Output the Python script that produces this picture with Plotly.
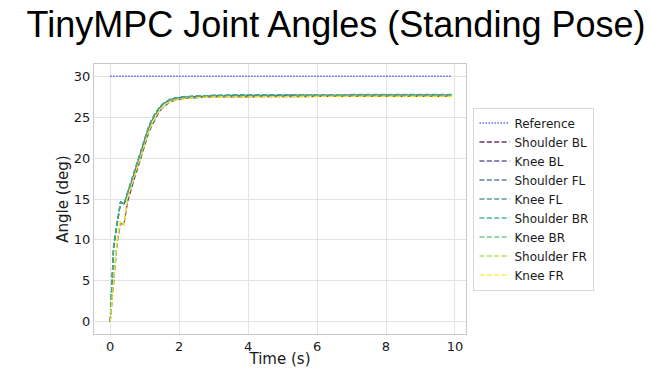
import plotly.graph_objects as go

# ---- data ----
time_s = [0.0, 0.1, 0.2, 0.3, 0.4, 0.5, 0.6, 0.7, 0.8, 0.9, 1.0, 1.1, 1.2, 1.3, 1.4, 1.5,
          1.6, 1.7, 1.8, 1.9, 2.0, 2.2, 2.4, 2.6, 3.0, 3.5, 4.0, 5.0, 6.0, 7.0, 8.0, 9.0, 9.9]

reference = [30.0] * len(time_s)

shoulder_bl = [0.0, 4.6, 9.6, 12.0, 11.9, 14.6, 16.2, 17.5, 18.8, 20.2, 21.6, 22.9, 23.9, 24.8,
               25.5, 26.05, 26.45, 26.75, 26.95, 27.1, 27.18, 27.3, 27.37, 27.42, 27.48, 27.5,
               27.52, 27.53, 27.54, 27.55, 27.55, 27.55, 27.55]
knee_bl = [0.0, 9.0, 11.8, 14.7, 14.3, 15.7, 16.9, 18.2, 19.5, 20.9, 22.3, 23.5, 24.5, 25.3,
           25.95, 26.45, 26.8, 27.05, 27.2, 27.3, 27.38, 27.47, 27.52, 27.57, 27.62, 27.65,
           27.67, 27.69, 27.7, 27.71, 27.71, 27.71, 27.71]
shoulder_fl = [0.0, 9.2, 11.9, 14.6, 14.4, 15.8, 17.0, 18.3, 19.6, 21.0, 22.4, 23.6, 24.6, 25.4,
               26.0, 26.5, 26.85, 27.1, 27.25, 27.35, 27.42, 27.5, 27.55, 27.6, 27.65, 27.68,
               27.7, 27.72, 27.73, 27.74, 27.74, 27.74, 27.74]
knee_fl = [0.0, 9.3, 12.0, 14.6, 14.4, 15.8, 17.0, 18.3, 19.6, 21.0, 22.4, 23.6, 24.6, 25.4,
           26.0, 26.5, 26.85, 27.1, 27.25, 27.35, 27.42, 27.5, 27.55, 27.6, 27.65, 27.68,
           27.7, 27.72, 27.74, 27.75, 27.75, 27.75, 27.75]
shoulder_br = [0.0, 9.4, 12.1, 14.6, 14.4, 15.9, 17.1, 18.4, 19.7, 21.1, 22.5, 23.7, 24.7, 25.45,
               26.05, 26.55, 26.9, 27.13, 27.28, 27.38, 27.45, 27.53, 27.58, 27.62, 27.67, 27.7,
               27.72, 27.74, 27.76, 27.77, 27.77, 27.77, 27.77]
knee_br = [0.0, 9.3, 12.0, 14.6, 14.4, 15.8, 17.0, 18.3, 19.6, 21.0, 22.4, 23.6, 24.6, 25.4,
           26.0, 26.5, 26.85, 27.1, 27.25, 27.35, 27.42, 27.5, 27.55, 27.6, 27.65, 27.68,
           27.71, 27.73, 27.75, 27.76, 27.76, 27.76, 27.76]
shoulder_fr = [0.0, 4.8, 9.8, 12.2, 11.8, 15.0, 16.3, 17.6, 18.9, 20.3, 21.7, 23.0, 24.0, 24.9,
               25.6, 26.1, 26.5, 26.8, 27.0, 27.12, 27.2, 27.3, 27.38, 27.42, 27.48, 27.5,
               27.52, 27.53, 27.54, 27.54, 27.54, 27.54, 27.54]
knee_fr = [0.0, 4.9, 9.9, 12.3, 11.8, 15.1, 16.4, 17.7, 19.0, 20.4, 21.8, 23.05, 24.05, 24.95,
           25.62, 26.12, 26.52, 26.8, 27.0, 27.11, 27.19, 27.29, 27.36, 27.41, 27.46, 27.49,
           27.51, 27.52, 27.53, 27.53, 27.53, 27.53, 27.53]

joint_names = ["Shoulder BL", "Knee BL", "Shoulder FL", "Knee FL",
               "Shoulder BR", "Knee BR", "Shoulder FR", "Knee FR"]
joint_values = [shoulder_bl, knee_bl, shoulder_fl, knee_fl,
                shoulder_br, knee_br, shoulder_fr, knee_fr]
joint_colors = ["#440154", "#46337e", "#365c8d", "#277f8e",
                "#1fa187", "#4ac16d", "#a0da39", "#fde725"]

x_ticks = [0, 2, 4, 6, 8, 10]
y_ticks = [0, 5, 10, 15, 20, 25, 30]

FONT = "DejaVu Sans"

fig = go.Figure()
fig.add_trace(go.Scatter(
    x=time_s, y=reference, mode="lines", name="Reference",
    line=dict(color="rgba(0,0,255,0.6)", width=1.5, dash="1.5px,1.5px"),
))
for name, vals, col in zip(joint_names, joint_values, joint_colors):
    fig.add_trace(go.Scatter(
        x=time_s, y=vals, mode="lines", name=name, opacity=0.8,
        line=dict(color=col, width=1.3, dash="5px,2.4px"),
    ))

axis_common = dict(
    showline=True, linecolor="#c8c8c8", linewidth=1.2, mirror=True,
    showgrid=True, gridcolor="#e3e3e3", gridwidth=1,
    zeroline=False, ticks="", automargin=False,
    tickfont=dict(family=FONT, size=13, color="#1a1a1a"),
)

fig.update_layout(
    width=652, height=368,
    margin=dict(l=94, r=186, t=64, b=34, autoexpand=False),
    paper_bgcolor="white", plot_bgcolor="white",
    title=dict(
        text="TinyMPC Joint Angles (Standing Pose)",
        font=dict(family="Liberation Sans", size=36, color="black"),
        x=336 / 652, xref="container", xanchor="center",
        y=1 - 24 / 368, yref="container", yanchor="middle",
        automargin=False,
    ),
    xaxis=dict(
        range=[-0.47, 10.32], tickvals=x_ticks,
        title=dict(text="Time (s)", font=dict(family=FONT, size=15, color="#1a1a1a"), standoff=0),
        **axis_common,
    ),
    yaxis=dict(
        range=[-1.5, 31.5], tickvals=y_ticks,
        title=dict(text="Angle (deg)", font=dict(family=FONT, size=15, color="#1a1a1a"), standoff=1),
        **axis_common,
    ),
    legend=dict(
        x=1.02, y=0.5, xanchor="left", yanchor="middle",
        bordercolor="#d9d9d9", borderwidth=1, bgcolor="white",
        font=dict(family=FONT, size=12, color="#1a1a1a"),
        tracegroupgap=0, itemwidth=30,
    ),
    showlegend=True,
)

fig.write_html("out.html", config={"displayModeBar": False},
               post_script="document.body.style.margin='0';")
